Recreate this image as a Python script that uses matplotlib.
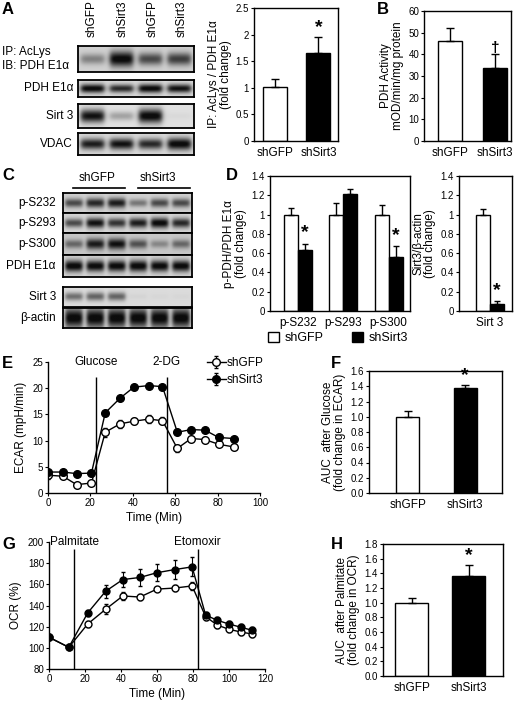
import numpy as np
import matplotlib

matplotlib.use('Agg')

import matplotlib.pyplot as plt
from matplotlib.patches import Patch
from matplotlib.ticker import FuncFormatter

plt.rcParams['font.family'] = ['Liberation Sans', 'DejaVu Sans']
plt.rcParams['axes.linewidth'] = 1.0

# -----------------------------
# DATA
# -----------------------------
groups = ['shGFP', 'shSirt3']

# A: blots (band intensity per lane) + quantification
a_lanes = ['shGFP', 'shSirt3', 'shGFP', 'shSirt3']
a_ip = [0.35, 1.0, 0.6, 0.65]
a_pdh = [0.9, 0.75, 0.9, 0.85]
a_sirt3 = [0.85, 0.25, 1.0, 0.03]
a_vdac = [0.8, 0.85, 0.75, 1.0]
a_means = [1.02, 1.65]
a_errs = [0.14, 0.3]

# B: PDH activity
b_means = [46, 33.8]
b_errs = [6, 6.2]

# C: blots, 3 shGFP + 3 shSirt3 lanes
c_s232 = [0.6, 0.75, 0.8, 0.4, 0.6, 0.6]
c_s293 = [0.6, 0.85, 0.7, 0.8, 0.9, 0.75]
c_s300 = [0.45, 0.8, 0.85, 0.55, 0.3, 0.45]
c_pdh = [0.95, 0.9, 0.9, 0.95, 0.9, 0.9]
c_sirt3 = [0.45, 0.5, 0.5, 0.03, 0.02, 0.02]
c_actin = [1.0, 1.0, 1.0, 1.0, 1.0, 1.0]

# D: phospho-PDH and Sirt3 quantification
d_sites = ['p-S232', 'p-S293', 'p-S300']
d_gfp = [1.0, 1.0, 1.0]
d_gfp_err = [0.07, 0.12, 0.1]
d_sirt = [0.63, 1.21, 0.56]
d_sirt_err = [0.07, 0.06, 0.11]
d2_gfp, d2_gfp_err = [1.0], [0.06]
d2_sirt, d2_sirt_err = [0.07], [0.03]

# E: ECAR
e_time = [0, 7, 13.5, 20.5, 27, 34, 40.5, 47.5, 54, 61, 67.5, 74, 80.5, 87.5]
e_gfp = [3.4, 3.2, 1.6, 1.9, 11.6, 13.2, 13.7, 14.1, 13.8, 8.5, 10.4, 10.2, 9.3, 8.8]
e_gfp_err = [0.8, 0.4, 0.4, 0.4, 0.9, 0.8, 0.6, 0.7, 0.7, 0.6, 0.4, 0.4, 0.4, 0.4]
e_sirt = [4.0, 4.0, 3.7, 3.8, 15.3, 18.1, 20.2, 20.5, 20.3, 11.6, 12.1, 12.0, 10.6, 10.4]
e_sirt_err = [0.3, 0.3, 0.3, 0.3, 0.4, 0.4, 0.4, 0.4, 0.4, 0.3, 0.3, 0.3, 0.3, 0.3]
e_glucose, e_2dg = 22.5, 56

# F: AUC ECAR
f_means = [1.0, 1.38]
f_errs = [0.07, 0.04]

# G: OCR
g_time = [0, 11, 21.5, 31.5, 41, 50.5, 60, 70, 79.5, 87, 93.5, 100, 106.5, 113]
g_gfp = [110, 100.5, 122.5, 136.5, 149, 148, 155.5, 156.5, 158.5, 129.5, 121.5, 117.5, 115, 113]
g_gfp_err = [2, 2, 3, 5, 4, 3, 2, 3, 4, 3, 3, 3, 3, 3]
g_sirt = [110, 100.5, 133, 153.5, 164.5, 166.5, 171, 174, 176.5, 131, 126, 122.5, 119.5, 116.5]
g_sirt_err = [3, 2, 3, 6, 7, 8, 8, 9, 9, 3, 3, 3, 3, 3]
g_palm, g_eto = 14, 82.5

# H: AUC OCR
h_means = [1.0, 1.36]
h_errs = [0.07, 0.15]

# -----------------------------
# HELPERS
# -----------------------------
W, H = 520, 704
fig = plt.figure(figsize=(W / 100, H / 100), dpi=100)

TICK = 7
LAB = 8.5


def px_axes(l, t, r, b):
    return fig.add_axes([l / W, 1 - b / H, (r - l) / W, (b - t) / H])


def ftext(x, y, s, **kw):
    fig.text(x / W, 1 - y / H, s, **kw)


def blot(l, t, r, b, intens, bg=0.82, thick=0.55):
    ax = px_axes(l, t, r, b)
    nx, ny = 300, 50
    X, Y = np.meshgrid(np.linspace(0, 1, nx), np.linspace(0, 1, ny))
    n = len(intens)
    img = np.full_like(X, bg)
    for i, v in enumerate(intens):
        cx = (i + 0.5) / n
        hw = 0.4 / n
        px = 1 / (1 + np.exp((np.abs(X - cx) - hw) / (0.05 / n)))
        sy = thick * (0.5 + 0.5 * v)
        py = np.exp(-((Y - 0.5) / (sy / 2)) ** 2)
        img -= bg * min(1.0, 1.1 * v) * px * py
    ax.imshow(np.clip(img, 0.05, 1), cmap='gray', vmin=0, vmax=1,
              aspect='auto', extent=[0, 1, 0, 1], interpolation='bilinear')
    ax.set_xticks([])
    ax.set_yticks([])
    for s in ax.spines.values():
        s.set_linewidth(1.3)
    return ax


def style(ax, box=True):
    ax.tick_params(direction='out', length=2, width=0.8, labelsize=TICK, pad=1.5)
    if not box:
        ax.spines['top'].set_visible(False)
        ax.spines['right'].set_visible(False)


def bars2(ax, means, errs, width, xlim, ylim, yticks, fmt='%g'):
    x = np.arange(len(means))
    ax.bar(x, means, width, color=['white', 'black'], edgecolor='black', linewidth=1)
    ax.errorbar(x, means, yerr=[np.zeros(len(errs)), errs], fmt='none',
                ecolor='black', elinewidth=1, capsize=3, capthick=1)
    ax.set_xlim(*xlim)
    ax.set_ylim(*ylim)
    ax.set_yticks(yticks)
    ax.yaxis.set_major_formatter(FuncFormatter(lambda v, p: fmt % v))
    ax.set_xticks(x)
    ax.set_xticklabels(groups)
    style(ax)
    ax.tick_params(axis='x', length=0, labelsize=LAB, pad=4)


def star(ax, x, top, s='*', size=14):
    ax.text(x, top, s, ha='center', va='bottom', fontsize=size, fontweight='bold')


# -----------------------------
# PANEL A
# -----------------------------
ftext(2, 2, 'A', fontsize=12, fontweight='bold', va='top')
a_x = [92, 123, 153, 182]
for xx, lab in zip(a_x, a_lanes):
    ftext(xx, 37, lab, rotation=90, ha='center', va='bottom', fontsize=LAB)
blot(78, 46, 194, 72, a_ip, bg=0.82, thick=0.6)
blot(78, 80, 194, 97, a_pdh, bg=0.85)
blot(78, 104, 194, 128, a_sirt3, bg=0.88, thick=0.6)
blot(78, 133, 194, 155, a_vdac, bg=0.85)
ftext(2, 52, 'IP: AcLys', ha='left', va='center', fontsize=LAB)
ftext(2, 66, 'IB: PDH E1\u03b1', ha='left', va='center', fontsize=LAB)
ftext(73, 88, 'PDH E1\u03b1', ha='right', va='center', fontsize=LAB)
ftext(73, 116, 'Sirt 3', ha='right', va='center', fontsize=LAB)
ftext(73, 144, 'VDAC', ha='right', va='center', fontsize=LAB)

ax = px_axes(254, 8, 338, 141)
bars2(ax, a_means, a_errs, 0.55, (-0.48, 1.45), (0, 2.5), [0, 0.5, 1, 1.5, 2, 2.5])
ax.set_ylabel('IP: AcLys / PDH E1\u03b1\n(fold change)', fontsize=LAB, labelpad=3,
              linespacing=1.0)
star(ax, 1, a_means[1] + a_errs[1] + 0.02)

# -----------------------------
# PANEL B
# -----------------------------
ftext(377, 2, 'B', fontsize=12, fontweight='bold', va='top')
ax = px_axes(424, 11, 511, 141)
bars2(ax, b_means, b_errs, 0.53, (-0.58, 1.36), (0, 60), range(0, 61, 10))
ax.set_ylabel('PDH Activity\nmOD/min/mg protein', fontsize=LAB, labelpad=3,
              linespacing=1.0)
star(ax, 1, b_means[1] + b_errs[1] - 0.5, s='\u2020', size=11)

# -----------------------------
# PANEL C
# -----------------------------
ftext(2, 168, 'C', fontsize=12, fontweight='bold', va='top')
ftext(97, 178, 'shGFP', ha='center', va='center', fontsize=LAB)
ftext(158, 178, 'shSirt3', ha='center', va='center', fontsize=LAB)
fig.add_artist(plt.Line2D([73 / W, 125 / W], [1 - 188 / H] * 2, color='black', lw=1.2))
fig.add_artist(plt.Line2D([138 / W, 190 / W], [1 - 188 / H] * 2, color='black', lw=1.2))
blot(63, 193, 192, 213, c_s232, bg=0.82)
blot(63, 213, 192, 233, c_s293, bg=0.84)
blot(63, 233, 192, 255, c_s300, bg=0.78)
blot(63, 255, 192, 277, c_pdh, bg=0.84)
blot(63, 287, 192, 307, c_sirt3, bg=0.86)
blot(63, 308, 192, 328, c_actin, bg=0.85, thick=1.0)
for yy, lab in zip([203, 223, 244, 266, 297, 318],
                   ['p-S232', 'p-S293', 'p-S300', 'PDH E1\u03b1', 'Sirt 3', '\u03b2-actin']):
    ftext(56, yy, lab, ha='right', va='center', fontsize=LAB)

# -----------------------------
# PANEL D
# -----------------------------
ftext(226, 168, 'D', fontsize=12, fontweight='bold', va='top')
ax = px_axes(270, 176, 410, 311)
xd = np.arange(len(d_sites))
wd = 0.31
ax.bar(xd - wd / 2, d_gfp, wd, color='white', edgecolor='black', linewidth=1)
ax.bar(xd + wd / 2, d_sirt, wd, color='black', edgecolor='black', linewidth=1)
ax.errorbar(xd - wd / 2, d_gfp, yerr=[np.zeros(3), d_gfp_err], fmt='none',
            ecolor='black', elinewidth=1, capsize=2.5, capthick=1)
ax.errorbar(xd + wd / 2, d_sirt, yerr=[np.zeros(3), d_sirt_err], fmt='none',
            ecolor='black', elinewidth=1, capsize=2.5, capthick=1)
ax.set_xlim(-0.62, 2.47)
ax.set_ylim(0, 1.4)
ax.set_yticks(np.arange(0, 1.41, 0.2))
ax.yaxis.set_major_formatter(FuncFormatter(lambda v, p: '%g' % round(v, 1)))
ax.set_xticks(xd)
ax.set_xticklabels(d_sites)
style(ax)
ax.tick_params(axis='x', length=0, labelsize=LAB, pad=4)
ax.set_ylabel('p-PDH/PDH E1\u03b1\n(fold change)', fontsize=LAB, labelpad=3, linespacing=1.0)
for i in [0, 2]:
    star(ax, xd[i] + wd / 2, d_sirt[i] + d_sirt_err[i] + 0.02)

ax = px_axes(459, 176, 512, 311)
ax.bar([-wd / 2], d2_gfp, wd, color='white', edgecolor='black', linewidth=1)
ax.bar([wd / 2], d2_sirt, wd, color='black', edgecolor='black', linewidth=1)
ax.errorbar([-wd / 2], d2_gfp, yerr=[[0], d2_gfp_err], fmt='none',
            ecolor='black', elinewidth=1, capsize=2.5, capthick=1)
ax.errorbar([wd / 2], d2_sirt, yerr=[[0], d2_sirt_err], fmt='none',
            ecolor='black', elinewidth=1, capsize=2.5, capthick=1)
ax.set_xlim(-0.69, 0.49)
ax.set_ylim(0, 1.4)
ax.set_yticks(np.arange(0, 1.41, 0.2))
ax.yaxis.set_major_formatter(FuncFormatter(lambda v, p: '%g' % round(v, 1)))
ax.set_xticks([0])
ax.set_xticklabels(['Sirt 3'])
style(ax)
ax.tick_params(axis='x', length=0, labelsize=LAB, pad=4)
ax.set_ylabel('Sirt3/\u03b2-actin\n(fold change)', fontsize=LAB, labelpad=3, linespacing=1.0)
star(ax, wd / 2, d2_sirt[0] + d2_sirt_err[0] + 0.02)

fig.legend([Patch(facecolor='white', edgecolor='black'), Patch(facecolor='black', edgecolor='black')],
           groups, loc='center left', bbox_to_anchor=(268 / W, 1 - 338 / H), ncol=2,
           frameon=False, handlelength=0.9, handleheight=0.9, handletextpad=0.4,
           columnspacing=2.3, fontsize=9, borderpad=0, borderaxespad=0)

# -----------------------------
# PANEL E
# -----------------------------
ftext(2, 356, 'E', fontsize=12, fontweight='bold', va='top')
ax = px_axes(48, 362, 260, 493)
ax.vlines([e_glucose, e_2dg], 0, 22.2, color='black', lw=1)
ax.errorbar(e_time, e_gfp, yerr=e_gfp_err, color='black', lw=1, marker='o', ms=5.5,
            mfc='white', mec='black', mew=1, capsize=1.5, elinewidth=0.8, label='shGFP')
ax.errorbar(e_time, e_sirt, yerr=e_sirt_err, color='black', lw=1, marker='o', ms=5.5,
            mfc='black', mec='black', capsize=1.5, elinewidth=0.8, label='shSirt3')
ax.set_xlim(0, 100)
ax.set_ylim(0, 25)
ax.set_xticks(range(0, 101, 20))
ax.set_yticks(range(0, 26, 5))
style(ax, box=False)
ax.set_xlabel('Time (Min)', fontsize=LAB, labelpad=3)
ax.set_ylabel('ECAR (mpH/min)', fontsize=LAB, labelpad=4)
ax.text(e_glucose, 25, 'Glucose', ha='center', va='center', fontsize=LAB, clip_on=False)
ax.text(e_2dg, 25, '2-DG', ha='center', va='center', fontsize=LAB, clip_on=False)
leg = ax.legend(loc='upper left', bbox_to_anchor=(0.75, 1.04), frameon=False,
                handlelength=1.6, handletextpad=0.1, labelspacing=0.45, fontsize=LAB,
                borderpad=0, borderaxespad=0, numpoints=1)

# -----------------------------
# PANEL F
# -----------------------------
ftext(331, 356, 'F', fontsize=12, fontweight='bold', va='top')
ax = px_axes(369, 371, 502, 493)
bars2(ax, f_means, f_errs, 0.4, (-0.67, 1.64), (0, 1.6), np.arange(0, 1.61, 0.2), fmt='%.1f')
ax.set_ylabel('AUC  after Glucose\n(fold change in ECAR)', fontsize=LAB, labelpad=3,
              linespacing=1.0)
star(ax, 1, f_means[1] + f_errs[1] + 0.01)

# -----------------------------
# PANEL G
# -----------------------------
ftext(2, 537, 'G', fontsize=12, fontweight='bold', va='top')
ax = px_axes(49, 542, 265, 669)
ax.vlines([g_palm, g_eto], 80, 193, color='black', lw=1)
ax.errorbar(g_time, g_gfp, yerr=g_gfp_err, color='black', lw=1, marker='o', ms=5,
            mfc='white', mec='black', mew=1, capsize=1.5, elinewidth=0.8)
ax.errorbar(g_time, g_sirt, yerr=g_sirt_err, color='black', lw=1, marker='o', ms=5,
            mfc='black', mec='black', capsize=1.5, elinewidth=0.8)
ax.set_xlim(0, 120)
ax.set_ylim(80, 200)
ax.set_xticks(range(0, 121, 20))
ax.set_yticks(range(80, 201, 20))
style(ax, box=False)
ax.set_xlabel('Time (Min)', fontsize=LAB, labelpad=3)
ax.set_ylabel('OCR (%)', fontsize=LAB, labelpad=4)
ax.text(g_palm, 200, 'Palmitate', ha='center', va='center', fontsize=LAB, clip_on=False)
ax.text(g_eto, 200, 'Etomoxir', ha='center', va='center', fontsize=LAB, clip_on=False)

# -----------------------------
# PANEL H
# -----------------------------
ftext(331, 537, 'H', fontsize=12, fontweight='bold', va='top')
ax = px_axes(383, 544, 503, 676)
bars2(ax, h_means, h_errs, 0.58, (-0.5, 1.6), (0, 1.8), np.arange(0, 1.81, 0.2), fmt='%.1f')
ax.set_ylabel('AUC  after Palmitate\n(fold change in OCR)', fontsize=LAB, labelpad=3,
              linespacing=1.0)
star(ax, 1, h_means[1] + h_errs[1] + 0.01)

fig.savefig('out.png', dpi=100)
